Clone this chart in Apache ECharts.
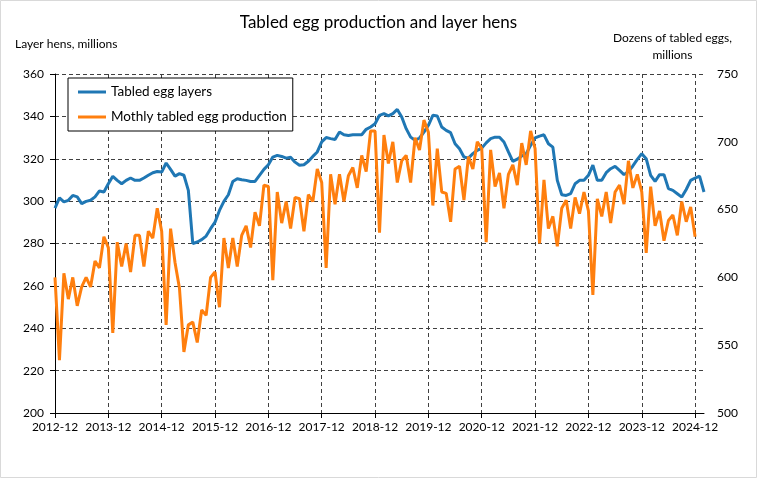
<!DOCTYPE html>
<html>
<head>
<meta charset="utf-8">
<script src="https://cdn.jsdelivr.net/npm/echarts@6/dist/echarts.min.js"></script>
<style>
  html, body { margin: 0; padding: 0; background: #fff; }
  #chart { width: 757px; height: 478px; }
</style>
</head>
<body>
<div id="chart"></div>
<script>
// monthly labels, 2012-12 .. 2025-02
var months = [];
for (var y = 2012, m = 12; y < 2025 || (y === 2025 && m <= 2); ) {
  months.push(y + '-' + (m < 10 ? '0' + m : m));
  m++; if (m > 12) { m = 1; y++; }
}

// layer hens, millions (left axis)
var layers = [
  296.7, 301.5, 299.6, 300.4, 302.7, 302, 298.8, 299.9, 300.4, 302, 304.8, 304.3,
  308.2, 311.7, 309.8, 308.2, 309.8, 310.9, 309.8, 309.8, 310.9, 312.2, 313.4, 314,
  313.7, 318, 315, 311.8, 313, 312.2, 305.1, 279.9, 280.7, 281.8, 283.5, 287,
  290.1, 295.6, 299.9, 303, 309.3, 310.6, 310.1, 309.8, 309.3, 309.3, 312.2, 315,
  317.2, 320.8, 321.6, 321.1, 320.3, 320.7, 318.4, 316.9, 317.2, 318.8, 321.1, 323.2,
  328, 330, 329.5, 329.1, 332.6, 331.3, 331, 331.3, 331.3, 331.3, 333.9, 335,
  336.5, 340.5, 341.3, 340.2, 341.3, 343.3, 339.7, 334.2, 330.2, 328.7, 329.8, 332.6,
  335.8, 340.5, 340.2, 335, 333.4, 332.3, 327.1, 324.7, 320.8, 320.3, 322.4, 324,
  325, 327.5, 329.5, 330.2, 330.2, 327.9, 323.2, 318.8, 319.8, 321.3, 322.4, 326.3,
  329.8, 330.7, 331.3, 327.1, 325.5, 309.8, 303, 302.7, 303.5, 308.2, 309.8, 309.8,
  312.2, 317, 309.8, 309.8, 313.4, 315.3, 316.4, 314.5, 312.5, 314, 316.6, 319.7,
  322.4, 320, 312.2, 309.3, 312.5, 312.5, 305.9, 305.1, 303.5, 301.9, 305.5, 309.8,
  310.9, 311.8, 304.3
];

// monthly tabled egg production, dozens millions (right axis)
var production = [
  600, 539, 603, 584, 600, 579, 593, 600, 593, 612, 607, 630,
  622, 559, 626, 608, 625, 604, 631, 631, 608, 634, 629, 651,
  634, 565, 636, 611, 592, 545, 565, 567, 552, 576, 572, 600,
  604, 578, 629, 607, 629, 608, 631, 638, 622, 648, 638, 668,
  667, 598, 663, 640, 656, 636, 659, 658, 634, 661, 656, 680,
  670, 607, 676, 654, 676, 656, 675, 681, 666, 690, 678, 708,
  708, 633, 705, 684, 700, 670, 686, 690, 670, 703, 694, 716,
  707, 653, 695, 663, 662, 641, 680, 682, 657, 689, 680, 700,
  695, 626, 694, 667, 677, 651, 676, 683, 668, 699, 683, 708,
  695, 625, 672, 636, 645, 623, 651, 657, 636, 659, 647, 663,
  649, 587, 658, 645, 663, 640, 663, 668, 654, 686, 666, 676,
  663, 618, 667, 638, 649, 627, 642, 646, 631, 656, 641, 652,
  630
];

var font = 'Lato, "Noto Sans", sans-serif';
var myChart = echarts.init(document.getElementById('chart'));

option = {
  animation: false,
  backgroundColor: '#fff',
  title: {
    text: 'Tabled egg production and layer hens',
    left: 'center',
    top: 9,
    textStyle: { fontFamily: font, fontSize: 17, fontWeight: 'normal', color: '#000' }
  },
  graphic: [
    { type: 'rect', shape: { x: 0.5, y: 0.5, width: 756, height: 477 },
      style: { fill: 'none', stroke: '#d9d9d9', lineWidth: 1 }, silent: true },
    { type: 'text', left: 15, top: 38,
      style: { text: 'Layer hens, millions', font: '12px ' + font, fill: '#000' } },
    { type: 'text', left: 613, top: 30,
      style: { text: 'Dozens of tabled eggs,\nmillions', font: '12px ' + font, fill: '#000',
               textAlign: 'center', lineHeight: 17 } }
  ],
  legend: {
    orient: 'vertical',
    left: 68,
    top: 78,
    icon: 'rect',
    itemWidth: 28,
    itemHeight: 3,
    itemGap: 11,
    padding: [7, 6, 7, 10],
    backgroundColor: '#fff',
    borderColor: '#000',
    borderWidth: 1,
    textStyle: { fontFamily: font, fontSize: 13.5, color: '#000' },
    data: ['Tabled egg layers', 'Mothly tabled egg production']
  },
  grid: { left: 55, right: 53, top: 74, bottom: 65 },
  xAxis: {
    type: 'category',
    data: months,
    boundaryGap: false,
    axisLine: { lineStyle: { color: '#000', width: 1 } },
    axisTick: { interval: 11, length: 5, lineStyle: { color: '#000' } },
    axisLabel: { interval: 11, color: '#000', fontFamily: font, fontSize: 12, margin: 8 },
    splitLine: { show: true, interval: 11, lineStyle: { color: '#404040', type: [4, 3] } }
  },
  yAxis: [
    {
      type: 'value', min: 200, max: 360, interval: 20,
      axisLine: { show: true, lineStyle: { color: '#000' } },
      axisTick: { show: true, length: 5, lineStyle: { color: '#000' } },
      axisLabel: { color: '#000', fontFamily: font, fontSize: 12, margin: 11 },
      splitLine: { show: true, lineStyle: { color: '#404040', type: [4, 3] } }
    },
    {
      type: 'value', min: 500, max: 750, interval: 50, position: 'right',
      axisLine: { show: false },
      axisTick: { show: false },
      axisLabel: { color: '#000', fontFamily: font, fontSize: 12, margin: 13 },
      splitLine: { show: false }
    }
  ],
  series: [
    {
      name: 'Tabled egg layers',
      type: 'line',
      yAxisIndex: 0,
      data: layers,
      symbol: 'none',
      color: '#1f77b4',
      lineStyle: { width: 3, color: '#1f77b4' }
    },
    {
      name: 'Mothly tabled egg production',
      type: 'line',
      yAxisIndex: 1,
      data: production,
      symbol: 'none',
      color: '#ff7f0e',
      lineStyle: { width: 3, color: '#ff7f0e' }
    }
  ]
};
myChart.setOption(option);
</script>
</body>
</html>
